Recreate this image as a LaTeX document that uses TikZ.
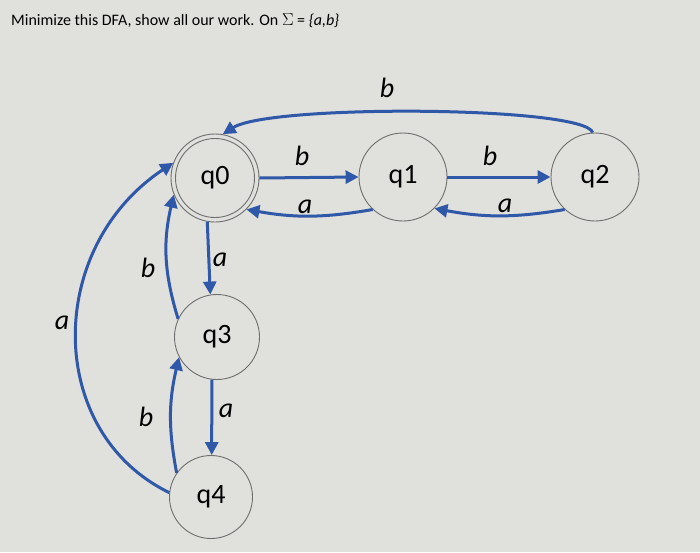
\documentclass[tikz,border=0pt]{standalone}
\usepackage{fontspec}
\setmainfont{Carlito}
\usetikzlibrary{arrows.meta}
\definecolor{bg}{RGB}{224,225,221}
\definecolor{edgeblue}{RGB}{48,88,168}
\definecolor{ringgray}{RGB}{110,110,110}
\tikzset{
  st/.style={circle,draw=ringgray,line width=0.9pt,minimum size=88pt,inner sep=0pt,font=\fontsize{28}{30}\selectfont},
  e/.style={draw=edgeblue,line width=3pt,-{Triangle[length=13pt,width=13pt]}},
  lab/.style={font=\fontsize{28}{30}\selectfont\itshape,inner sep=0pt}
}
\begin{document}
\begin{tikzpicture}[x=1pt,y=-1pt]
\fill[bg] (0,0) rectangle (700,552);
\useasboundingbox (0,0) rectangle (700,552);
\node[anchor=base west,inner sep=0pt,font=\fontsize{16}{18}\selectfont] (title) at (11,25) {Minimize this DFA, show all our work. On $\Sigma$ = \textit{\{a,b\}}};
\node[st] (q0) at (215,178) {q0};
\node[circle,draw=ringgray,line width=0.9pt,minimum size=79pt,inner sep=0pt] (q0in) at (q0.center) {};
\node[st] (q1) at (403,177) {q1};
\node[st] (q2) at (595,177) {q2};
\node[st,minimum size=85pt] (q3) at (217,337) {q3};
\node[st,minimum size=83pt] (q4) at (211,497) {q4};
% edges
\draw[e] (q0.east) -- (q1.west);
\draw[e] (q1.-133) to[bend left=10] (q0.-45);
\draw[e] (q1.east) -- (q2.west);
\draw[e] (q2.-133) to[bend left=10] (q1.-45);
\draw[e] (q2.93) .. controls (585,106) and (270,104) .. (q0.80);
\draw[e] (q0.-100) -- (q3.99);
\draw[e] (q3.155) to[bend left=15] (q0.-158);
\draw[e] (q3.-97) -- (q4.89);
\draw[e] (q4.145) to[bend left=12] (q3.-152);
\draw[e] (q4.174) .. controls (45,432) and (45,248) .. (q0.160);
% labels
\node[lab] (lb01) at (302,156) {b};
\node[lab] (la10) at (305,207) {a};
\node[lab] (lb12) at (490,156) {b};
\node[lab] (la21) at (505,206) {a};
\node[lab] (lb20) at (387,88) {b};
\node[lab] (la03) at (220,260) {a};
\node[lab] (lb30) at (148,268) {b};
\node[lab] (la34) at (226,411) {a};
\node[lab] (lb43) at (146,417) {b};
\node[lab] (la40) at (62,323) {a};
\end{tikzpicture}
\end{document}
